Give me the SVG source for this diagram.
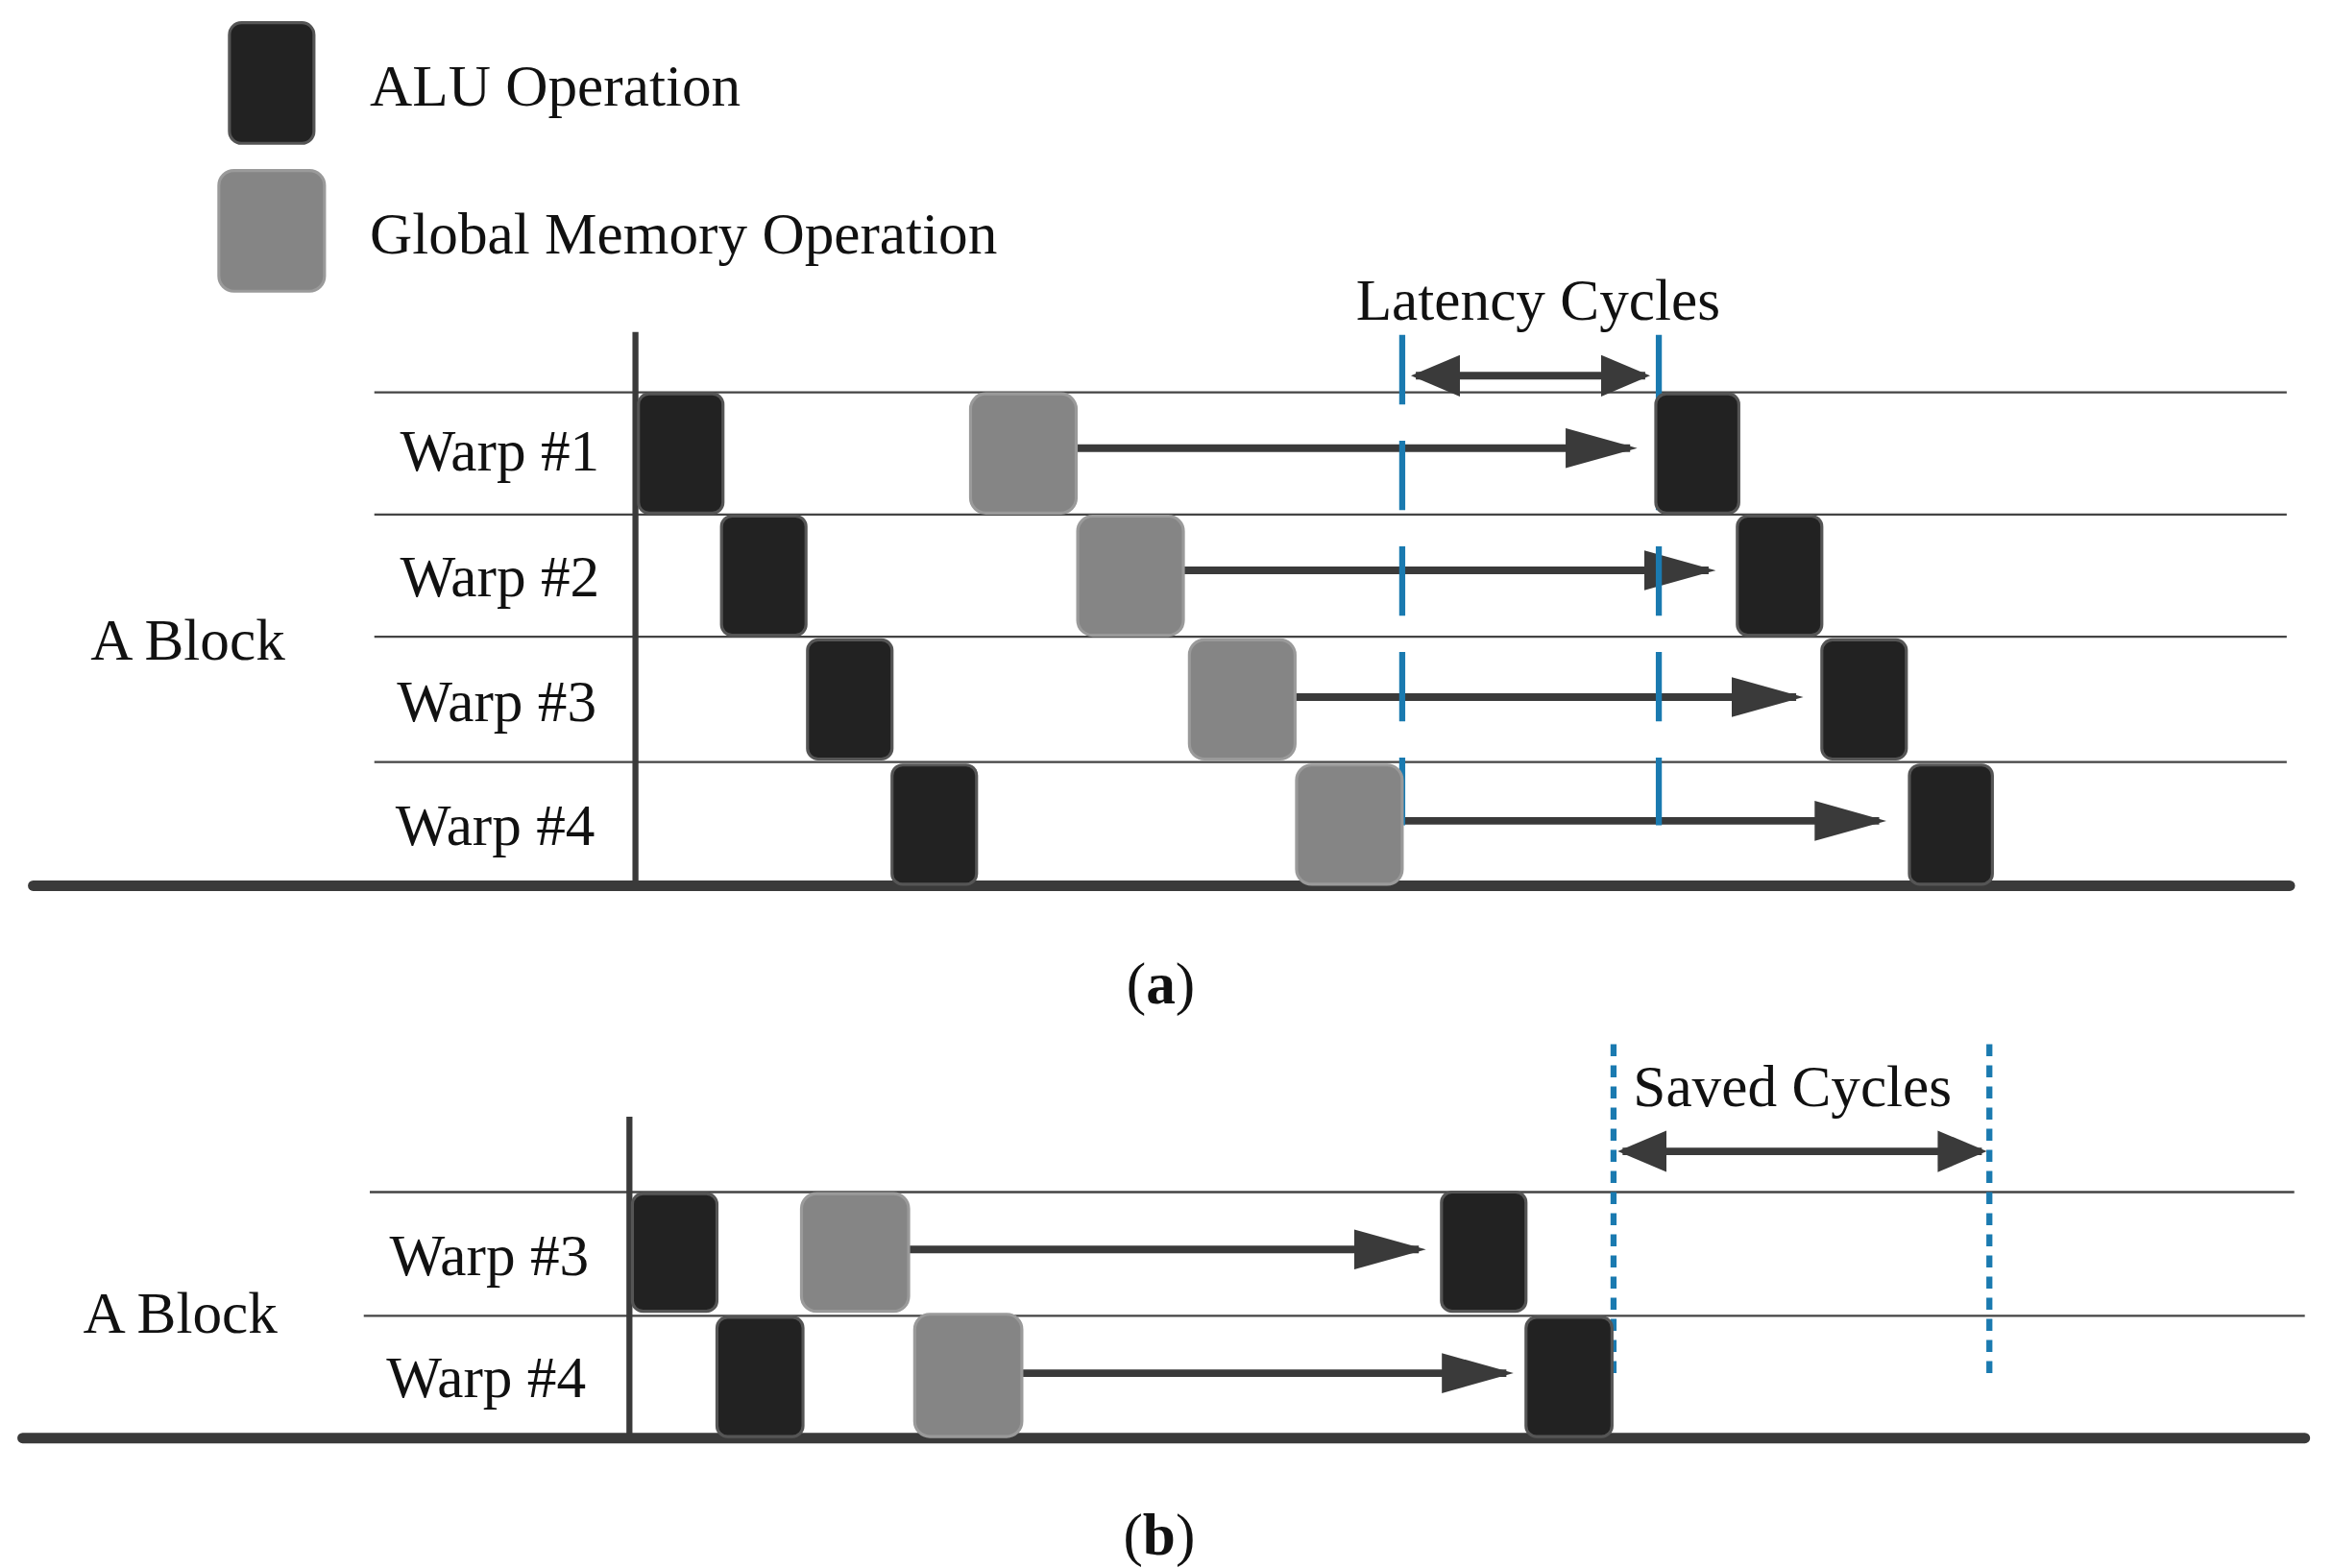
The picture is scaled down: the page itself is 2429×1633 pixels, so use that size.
<svg xmlns="http://www.w3.org/2000/svg" width="2429" height="1633" viewBox="0 0 2429 1633">
<style>
text{font-family:"Liberation Serif","Times New Roman",serif;fill:#111;font-size:39px}
.alu{fill:#222;stroke:#555;stroke-width:2}
.mem{fill:#858585;stroke:#9a9a9a;stroke-width:2}
.row{stroke:#444;stroke-width:1.5}
.axis{stroke:#3a3a3a;stroke-width:4}
.base{stroke:#3a3a3a;stroke-width:7;stroke-linecap:round}
.arr{stroke:#3a3a3a;stroke-width:5}
.blue{stroke:#1a7ab0;stroke-width:4;fill:none}
</style>
<defs>
<marker id="ah" viewBox="0 0 10 5.6" refX="9" refY="2.8" markerWidth="9.5" markerHeight="5.3" markerUnits="strokeWidth" orient="auto" preserveAspectRatio="none"><path d="M0,0L10,2.8L0,5.6z" fill="#3a3a3a"/></marker>
<marker id="ds" viewBox="0 0 10 8" refX="9" refY="4" markerWidth="6.5" markerHeight="5.5" markerUnits="strokeWidth" orient="auto-start-reverse" preserveAspectRatio="none"><path d="M0,0L10,4L0,8z" fill="#3a3a3a"/></marker>
</defs>
<rect width="2429" height="1633" fill="#fff"/>
<g transform="scale(1.5715)">
<g id="legend">
<rect class="alu" x="152" y="15" width="56" height="80" rx="8"/>
<text x="245" y="70">ALU Operation</text>
<rect class="mem" x="145" y="113" width="70" height="80" rx="10"/>
<text x="245" y="168">Global Memory Operation</text>
</g>
<g id="connectors">
<line class="row" x1="248" y1="260" x2="1515" y2="260"/>
<line class="row" x1="248" y1="341" x2="1515" y2="341"/>
<line class="row" x1="248" y1="422" x2="1515" y2="422"/>
<line class="row" x1="248" y1="505" x2="1515" y2="505"/>
<line class="axis" x1="421" y1="220" x2="421" y2="590"/>
<line class="base" x1="22" y1="587" x2="1517" y2="587"/>
<line class="arr" x1="713" y1="297" x2="1080" y2="297" marker-end="url(#ah)"/>
<line class="arr" x1="784" y1="378" x2="1132" y2="378" marker-end="url(#ah)"/>
<line class="arr" x1="858" y1="462" x2="1190" y2="462" marker-end="url(#ah)"/>
<line class="arr" x1="929" y1="544" x2="1245" y2="544" marker-end="url(#ah)"/>
<line class="blue" x1="929" y1="222" x2="929" y2="547" stroke-dasharray="46,24"/>
<line class="blue" x1="1099" y1="222" x2="1099" y2="547" stroke-dasharray="46,24"/>
<line class="arr" x1="938" y1="249" x2="1090" y2="249" stroke-width="3" marker-start="url(#ds)" marker-end="url(#ds)"/>
<line class="row" x1="245" y1="790" x2="1520" y2="790"/>
<line class="row" x1="241" y1="872" x2="1527" y2="872"/>
<line class="axis" x1="417" y1="740" x2="417" y2="955"/>
<line class="base" x1="15" y1="953" x2="1527" y2="953"/>
<line class="arr" x1="602" y1="828" x2="940" y2="828" marker-end="url(#ah)"/>
<line class="arr" x1="677" y1="910" x2="998" y2="910" marker-end="url(#ah)"/>
<line class="blue" x1="1069" y1="692" x2="1069" y2="910" stroke-dasharray="8,6"/>
<line class="blue" x1="1318" y1="692" x2="1318" y2="910" stroke-dasharray="8,6"/>
<line class="arr" x1="1075" y1="763" x2="1313" y2="763" stroke-width="3" marker-start="url(#ds)" marker-end="url(#ds)"/>
</g>
<g id="part-a">
<text x="60" y="437">A Block</text>
<text x="265" y="312">Warp #1</text>
<text x="265" y="395">Warp #2</text>
<text x="263" y="478">Warp #3</text>
<text x="262" y="560">Warp #4</text>
<rect class="alu" x="423" y="261" width="56" height="79" rx="7"/>
<rect class="alu" x="478" y="342" width="56" height="79" rx="7"/>
<rect class="alu" x="535" y="424" width="56" height="79" rx="7"/>
<rect class="alu" x="591" y="507" width="56" height="79" rx="7"/>
<rect class="mem" x="643" y="261" width="70" height="79" rx="10"/>
<rect class="mem" x="714" y="342" width="70" height="79" rx="10"/>
<rect class="mem" x="788" y="424" width="70" height="79" rx="10"/>
<rect class="mem" x="859" y="507" width="70" height="79" rx="10"/>
<rect class="alu" x="1097" y="261" width="55" height="79" rx="7"/>
<rect class="alu" x="1151" y="342" width="56" height="79" rx="7"/>
<rect class="alu" x="1207" y="424" width="56" height="79" rx="7"/>
<rect class="alu" x="1265" y="507" width="55" height="79" rx="7"/>
<text x="1019" y="212" text-anchor="middle">Latency Cycles</text>
<text x="769" y="665" text-anchor="middle">(<tspan font-weight="bold">a</tspan>)</text>
</g>
<g id="part-b">
<text x="55" y="883">A Block</text>
<text x="258" y="845">Warp #3</text>
<text x="256" y="926">Warp #4</text>
<rect class="alu" x="419" y="791" width="56" height="78" rx="7"/>
<rect class="alu" x="475" y="873" width="57" height="79" rx="7"/>
<rect class="mem" x="531" y="791" width="71" height="78" rx="10"/>
<rect class="mem" x="606" y="871" width="71" height="81" rx="10"/>
<rect class="alu" x="955" y="790" width="56" height="79" rx="7"/>
<rect class="alu" x="1011" y="873" width="57" height="79" rx="7"/>
<text x="1082" y="733">Saved Cycles</text>
<text x="768" y="1030" text-anchor="middle">(<tspan font-weight="bold">b</tspan>)</text>
</g>
</g>
</svg>
